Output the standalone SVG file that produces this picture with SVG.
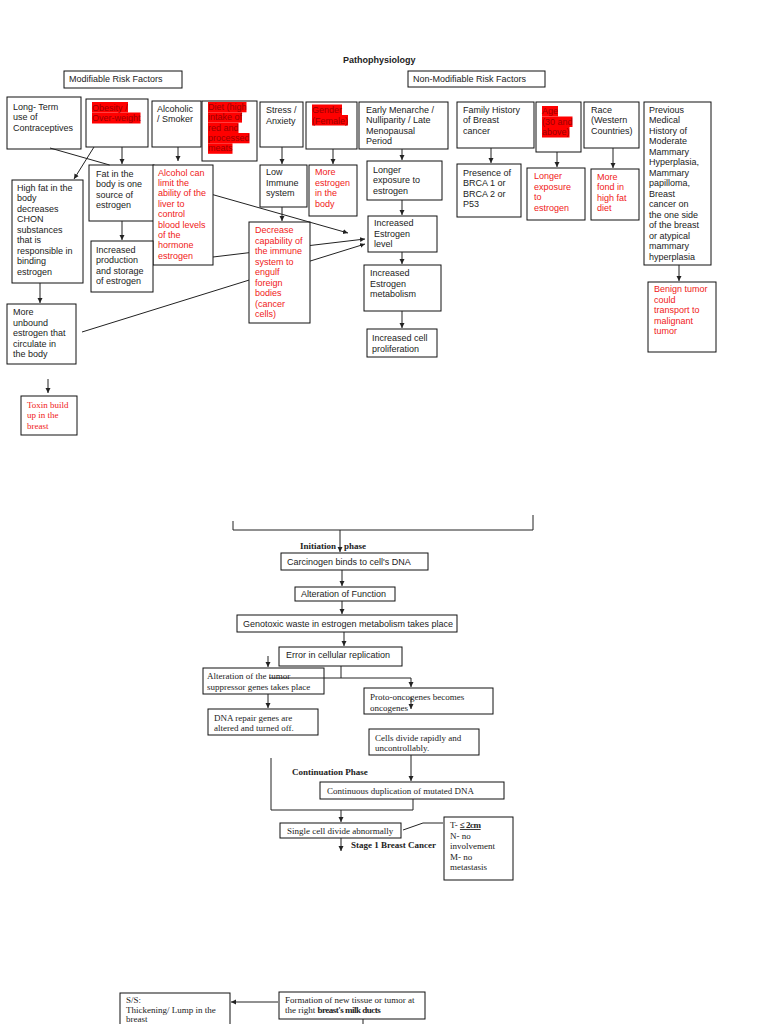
<svg xmlns="http://www.w3.org/2000/svg" width="768" height="1024" viewBox="0 0 768 1024">
<defs>
<style>
.bx{fill:#fff;stroke:#111;stroke-width:1}
.t{font-family:"Liberation Sans",Arial,sans-serif;font-size:9px;fill:#222}
.s{font-family:"Liberation Serif","Times New Roman",serif;font-size:9px;fill:#222}
.r{fill:#f02020}
.hl{fill:#f00;stroke:none}
.hk{fill:#9a0000}
.b{font-weight:bold}
.c{fill:none;stroke:#222;stroke-width:1}
.ca{fill:none;stroke:#222;stroke-width:1;marker-end:url(#ah)}
</style>
<marker id="ah" markerWidth="6" markerHeight="6" refX="5" refY="3" orient="auto" markerUnits="userSpaceOnUse">
<path d="M0,0.5 L5,3 L0,5.5 Z" fill="#222"/>
</marker>
</defs>
<rect width="768" height="1024" fill="#fff"/>

<g id="title"><text class="t b" x="343" y="63">Pathophysiology</text></g>

<g id="n-mod"><rect class="bx" x="64" y="71" width="118" height="17"/><text class="t" x="69" y="82">Modifiable Risk Factors</text></g>
<g id="n-nonmod"><rect class="bx" x="408" y="71" width="137" height="16"/><text class="t" x="413" y="82">Non-Modifiable Risk Factors</text></g>

<g id="n-contra"><rect class="bx" x="7" y="97" width="74" height="52"/><text class="t"><tspan x="13" y="110">Long- Term</tspan><tspan x="13" y="120.3">use of</tspan><tspan x="13" y="130.6">Contraceptives</tspan></text></g>

<g id="n-obesity"><rect class="bx" x="86" y="99" width="62" height="48"/>
<rect class="hl" x="92" y="102" width="36" height="10.5"/><rect class="hl" x="92" y="112.5" width="48.5" height="11"/>
<text class="t hk"><tspan x="92" y="110.5">Obesity /</tspan><tspan x="92" y="121">Over-weight</tspan></text></g>

<g id="n-alcoholic"><rect class="bx" x="152" y="101" width="49" height="46"/><text class="t"><tspan x="157" y="111.5">Alcoholic</tspan><tspan x="157" y="122">/ Smoker</tspan></text></g>

<g id="n-diet"><rect class="bx" x="202" y="101" width="55" height="60"/>
<rect class="hl" x="208" y="102" width="38.5" height="10.3"/><rect class="hl" x="208" y="112.3" width="34" height="10.3"/><rect class="hl" x="208" y="122.6" width="30.5" height="10.4"/><rect class="hl" x="208" y="133" width="41.5" height="10.3"/><rect class="hl" x="208" y="143.3" width="24.5" height="10.5"/>
<text class="t hk"><tspan x="208" y="110">Diet (high</tspan><tspan x="208" y="120.3">intake of</tspan><tspan x="208" y="130.6">red and</tspan><tspan x="208" y="141">processed</tspan><tspan x="208" y="151.3">meats</tspan></text></g>

<g id="n-stress"><rect class="bx" x="260" y="102" width="43" height="45"/><text class="t"><tspan x="266" y="113">Stress /</tspan><tspan x="266" y="123.5">Anxiety</tspan></text></g>

<g id="n-gender"><rect class="bx" x="306" y="102" width="51" height="47"/>
<rect class="hl" x="312" y="104.5" width="30" height="10.5"/><rect class="hl" x="312" y="115" width="36" height="10.5"/>
<text class="t hk"><tspan x="312" y="113">Gender</tspan><tspan x="312" y="123.5">(Female)</tspan></text></g>

<g id="n-early"><rect class="bx" x="359" y="102" width="89" height="47"/><text class="t"><tspan x="366" y="112.5">Early Menarche /</tspan><tspan x="366" y="123">Nulliparity / Late</tspan><tspan x="366" y="133.5">Menopausal</tspan><tspan x="366" y="144">Period</tspan></text></g>

<g id="n-family"><rect class="bx" x="457" y="102" width="77" height="46"/><text class="t"><tspan x="463" y="112.5">Family History</tspan><tspan x="463" y="123">of Breast</tspan><tspan x="463" y="133.5">cancer</tspan></text></g>

<g id="n-age"><rect class="bx" x="536" y="102" width="45" height="50"/>
<rect class="hl" x="542" y="106" width="16" height="10.5"/><rect class="hl" x="542" y="116.5" width="30.5" height="10.5"/><rect class="hl" x="542" y="127" width="27.5" height="10.5"/>
<text class="t hk"><tspan x="542" y="114">Age</tspan><tspan x="542" y="124.5">(30 and</tspan><tspan x="542" y="135">above)</tspan></text></g>

<g id="n-race"><rect class="bx" x="584" y="102" width="55" height="46"/><text class="t"><tspan x="591" y="112.5">Race</tspan><tspan x="591" y="123">(Western</tspan><tspan x="591" y="133.5">Countries)</tspan></text></g>

<g id="n-prev"><rect class="bx" x="644" y="102" width="67" height="163"/><text class="t"><tspan x="649" y="112.5">Previous</tspan><tspan x="649" y="123">Medical</tspan><tspan x="649" y="133.5">History of</tspan><tspan x="649" y="144">Moderate</tspan><tspan x="649" y="154.5">Mammary</tspan><tspan x="649" y="165">Hyperplasia,</tspan><tspan x="649" y="175.5">Mammary</tspan><tspan x="649" y="186">papilloma,</tspan><tspan x="649" y="196.5">Breast</tspan><tspan x="649" y="207">cancer on</tspan><tspan x="649" y="217.5">the one side</tspan><tspan x="649" y="228">of the breast</tspan><tspan x="649" y="238.5">or atypical</tspan><tspan x="649" y="249">mammary</tspan><tspan x="649" y="259.5">hyperplasia</tspan></text></g>

<g id="n-fat"><rect class="bx" x="89" y="165" width="65" height="56"/><text class="t"><tspan x="96" y="176.5">Fat in the</tspan><tspan x="96" y="187">body is one</tspan><tspan x="96" y="197.5">source of</tspan><tspan x="96" y="208">estrogen</tspan></text></g>

<g id="n-alcliver"><rect class="bx" x="153" y="165" width="60" height="100"/><text class="t r"><tspan x="158" y="175.5">Alcohol can</tspan><tspan x="158" y="185.9">limit the</tspan><tspan x="158" y="196.3">ability of the</tspan><tspan x="158" y="206.7">liver to</tspan><tspan x="158" y="217.1">control</tspan><tspan x="158" y="227.5">blood levels</tspan><tspan x="158" y="237.9">of the</tspan><tspan x="158" y="248.3">hormone</tspan><tspan x="158" y="258.7">estrogen</tspan></text></g>

<g id="n-highfat"><rect class="bx" x="12" y="180" width="71" height="103"/><text class="t"><tspan x="17" y="190.5">High fat in the</tspan><tspan x="17" y="201">body</tspan><tspan x="17" y="211.5">decreases</tspan><tspan x="17" y="222">CHON</tspan><tspan x="17" y="232.5">substances</tspan><tspan x="17" y="243">that is</tspan><tspan x="17" y="253.5">responsible in</tspan><tspan x="17" y="264">binding</tspan><tspan x="17" y="274.5">estrogen</tspan></text></g>

<g id="n-incprod"><rect class="bx" x="91" y="241" width="62" height="51"/><text class="t"><tspan x="96" y="252.5">Increased</tspan><tspan x="96" y="263">production</tspan><tspan x="96" y="273.5">and storage</tspan><tspan x="96" y="284">of estrogen</tspan></text></g>

<g id="n-unbound"><rect class="bx" x="7" y="304" width="69" height="60"/><text class="t"><tspan x="13" y="315">More</tspan><tspan x="13" y="325.5">unbound</tspan><tspan x="13" y="336">estrogen that</tspan><tspan x="13" y="346.5">circulate in</tspan><tspan x="13" y="357">the body</tspan></text></g>

<g id="n-toxin"><rect class="bx" x="21" y="396" width="56" height="39"/><text class="s r"><tspan x="27" y="407.5">Toxin build</tspan><tspan x="27" y="418">up in the</tspan><tspan x="27" y="428.5">breast</tspan></text></g>

<g id="n-lowimm"><rect class="bx" x="260" y="165" width="47" height="42"/><text class="t"><tspan x="266" y="175">Low</tspan><tspan x="266" y="185.5">Immune</tspan><tspan x="266" y="196">system</tspan></text></g>

<g id="n-moreest"><rect class="bx" x="309" y="165" width="48" height="51"/><text class="t r"><tspan x="315" y="175">More</tspan><tspan x="315" y="185.5">estrogen</tspan><tspan x="315" y="196">in the</tspan><tspan x="315" y="206.5">body</tspan></text></g>

<g id="n-longer"><rect class="bx" x="367" y="161" width="75" height="39"/><text class="t"><tspan x="373" y="172.5">Longer</tspan><tspan x="373" y="183">exposure to</tspan><tspan x="373" y="193.5">estrogen</tspan></text></g>

<g id="n-incest"><rect class="bx" x="368" y="216" width="69" height="36"/><text class="t"><tspan x="374" y="226">Increased</tspan><tspan x="374" y="236.5">Estrogen</tspan><tspan x="374" y="247">level</tspan></text></g>

<g id="n-decrease"><rect class="bx" x="249" y="222" width="61" height="101"/><text class="t r"><tspan x="255" y="233">Decrease</tspan><tspan x="255" y="243.5">capability of</tspan><tspan x="255" y="254">the immune</tspan><tspan x="255" y="264.5">system to</tspan><tspan x="255" y="275">engulf</tspan><tspan x="255" y="285.5">foreign</tspan><tspan x="255" y="296">bodies</tspan><tspan x="255" y="306.5">(cancer</tspan><tspan x="255" y="317">cells)</tspan></text></g>

<g id="n-metab"><rect class="bx" x="364" y="265" width="77" height="46"/><text class="t"><tspan x="370" y="276">Increased</tspan><tspan x="370" y="286.5">Estrogen</tspan><tspan x="370" y="297">metabolism</tspan></text></g>

<g id="n-prolif"><rect class="bx" x="367" y="329" width="70" height="28"/><text class="t"><tspan x="372" y="340.5">Increased cell</tspan><tspan x="372" y="351.5">proliferation</tspan></text></g>

<g id="n-brca"><rect class="bx" x="457" y="164" width="64" height="53"/><text class="t"><tspan x="463" y="175.5">Presence of</tspan><tspan x="463" y="186">BRCA 1 or</tspan><tspan x="463" y="196.5">BRCA 2 or</tspan><tspan x="463" y="207">P53</tspan></text></g>

<g id="n-longer2"><rect class="bx" x="527" y="168" width="58" height="52"/><text class="t r"><tspan x="534" y="179">Longer</tspan><tspan x="534" y="189.5">exposure</tspan><tspan x="534" y="200">to</tspan><tspan x="534" y="210.5">estrogen</tspan></text></g>

<g id="n-fond"><rect class="bx" x="591" y="169" width="48" height="51"/><text class="t r"><tspan x="597" y="179.5">More</tspan><tspan x="597" y="190">fond in</tspan><tspan x="597" y="200.5">high fat</tspan><tspan x="597" y="211">diet</tspan></text></g>

<g id="n-benign"><rect class="bx" x="648" y="282" width="68" height="70"/><text class="t r"><tspan x="654" y="292">Benign tumor</tspan><tspan x="654" y="302.5">could</tspan><tspan x="654" y="313">transport to</tspan><tspan x="654" y="323.5">malignant</tspan><tspan x="654" y="334">tumor</tspan></text></g>

<g id="lbl-init"><text class="s b"><tspan x="300" y="549">Initiation</tspan><tspan x="344" y="549">phase</tspan></text></g>

<g id="n-carcin"><rect class="bx" x="281" y="553" width="147" height="17"/><text class="t" x="287" y="565">Carcinogen binds to cell's DNA</text></g>
<g id="n-altfunc"><rect class="bx" x="295" y="587" width="100" height="14"/><text class="t" x="301" y="597">Alteration of Function</text></g>
<g id="n-genotox"><rect class="bx" x="237" y="615" width="220" height="17"/><text class="t" x="243" y="626.5">Genotoxic waste in estrogen metabolism takes place</text></g>
<g id="n-error"><rect class="bx" x="279" y="647" width="123" height="19"/><text class="t" x="286" y="658">Error in cellular replication</text></g>
<g id="n-altsupp"><rect class="bx" x="203" y="668" width="121" height="26"/><text class="s"><tspan x="207" y="679">Alteration of the tumor</tspan><tspan x="207" y="690">suppressor genes takes place</tspan></text></g>
<g id="n-dna"><rect class="bx" x="208" y="709" width="110" height="26"/><text class="s"><tspan x="214" y="721">DNA repair genes are</tspan><tspan x="214" y="731">altered and turned off.</tspan></text></g>
<g id="n-proto"><rect class="bx" x="364" y="688" width="129" height="26"/><text class="s"><tspan x="370" y="700">Proto-oncogenes becomes</tspan><tspan x="370" y="710.5">oncogenes</tspan></text></g>
<g id="n-cells"><rect class="bx" x="369" y="729" width="110" height="26"/><text class="s"><tspan x="375" y="741">Cells divide rapidly and</tspan><tspan x="375" y="751">uncontrollably.</tspan></text></g>

<g id="lbl-cont"><text class="s b" x="292" y="775">Continuation Phase</text></g>
<g id="n-contdup"><rect class="bx" x="320" y="782" width="184" height="17"/><text class="s" x="327" y="794">Continuous duplication of mutated DNA</text></g>
<g id="n-single"><rect class="bx" x="280" y="823" width="121" height="15"/><text class="s" x="287" y="833.5">Single cell divide abnormally</text></g>
<g id="lbl-stage"><text class="s b" x="351" y="848">Stage 1 Breast Cancer</text></g>
<g id="n-tnm"><rect class="bx" x="444" y="817" width="69" height="63"/><text class="s"><tspan x="450" y="828">T- <tspan font-weight="bold" text-decoration="underline" letter-spacing="-0.5">≤ 2cm</tspan></tspan><tspan x="450" y="838.5">N- no</tspan><tspan x="450" y="849">involvement</tspan><tspan x="450" y="859.5">M- no</tspan><tspan x="450" y="870">metastasis</tspan></text></g>

<g id="n-formation"><rect class="bx" x="279" y="992" width="146" height="27"/><text class="s"><tspan x="285" y="1002.5">Formation of new tissue or tumor at</tspan><tspan x="285" y="1013">the right <tspan font-weight="bold" letter-spacing="-0.5">breast's milk ducts</tspan></tspan></text></g>
<g id="n-ss"><rect class="bx" x="120" y="993" width="110" height="40"/><text class="s"><tspan x="126" y="1002.5">S/S:</tspan><tspan x="126" y="1012.5">Thickening/ Lump in the</tspan><tspan x="126" y="1021.5">breast</tspan></text></g>

<g id="connectors">
<path class="c" d="M50,148 L109.6,165"/>
<path class="ca" d="M213,194.7 L348,233"/>
<path class="ca" d="M94,147 L74,179"/>
<path class="ca" d="M122,147 L122,164"/>
<path class="ca" d="M178,147 L178,161"/>
<path class="ca" d="M122,221 L122,240"/>
<path class="ca" d="M40,283 L40,303"/>
<path class="ca" d="M48,379 L48,393"/>
<path class="c" d="M82,332 L249,280.1"/>
<path class="ca" d="M310,261.1 L365,244"/>
<path class="c" d="M213,257 L249,252.7"/>
<path class="ca" d="M310,245.5 L365,239"/>
<path class="ca" d="M282,147 L282,164"/>
<path class="ca" d="M282,207 L282,221"/>
<path class="ca" d="M333,149 L333,164"/>
<path class="ca" d="M402,149 L402,160"/>
<path class="ca" d="M402,200 L402,215"/>
<path class="ca" d="M402,252 L402,264"/>
<path class="ca" d="M402,311 L402,328"/>
<path class="ca" d="M491,148 L491,163"/>
<path class="ca" d="M557,152 L557,167"/>
<path class="ca" d="M613,148 L613,168"/>
<path class="ca" d="M679,265 L679,281"/>
<path class="c" d="M233,521 L233,530 L533,530 L533,515"/>
<path class="ca" d="M340,530 L340,552"/>
<path class="ca" d="M342,570 L342,586"/>
<path class="ca" d="M342,601 L342,614"/>
<path class="ca" d="M344,632 L344,646"/>
<path class="c" d="M341,666 L341,678"/>
<path class="ca" d="M269,678 L411,678 L411,687"/>
<path class="ca" d="M268,656 L268,667"/>
<path class="ca" d="M268,694 L268,708"/>
<path class="ca" d="M411,697 L411,709"/>
<path class="ca" d="M411,755 L411,781"/>
<path class="c" d="M271,758 L271,810 L413,810 L413,799"/>
<path class="ca" d="M341,810 L341,822"/>
<path class="ca" d="M341,838 L341,851"/>
<path class="c" d="M403,830 L423,823 L443,823" stroke="#555"/>
<path class="ca" d="M278,1002 L231,1002"/>
<path class="c" d="M363,1019 L363,1024"/>
</g>
</svg>
